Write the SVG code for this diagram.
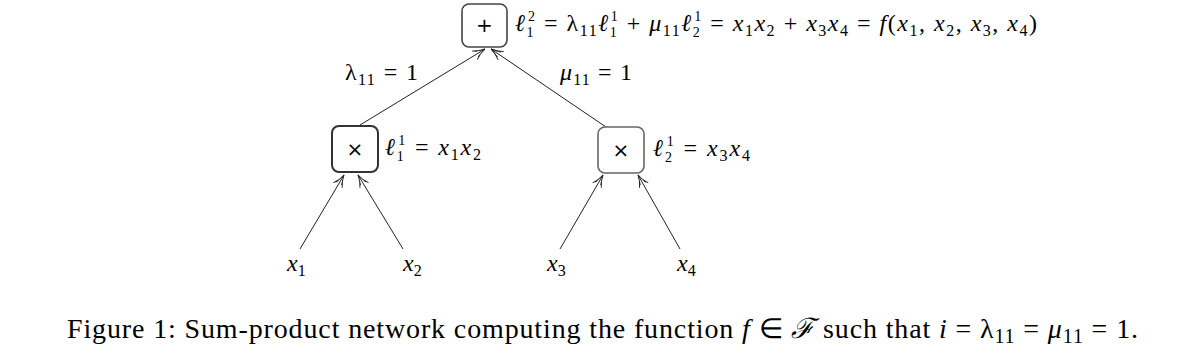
<svg xmlns="http://www.w3.org/2000/svg" width="1193" height="353" viewBox="0 0 1193 353">
<style>
.math{font-family:"Liberation Serif","DejaVu Serif",serif;font-size:24px;fill:#000}
.it{font-style:italic}
.sub{font-size:16px}
.ss{font-size:14px}
.box{fill:#fff;stroke:#444;stroke-width:1.6}
.op{font-family:"DejaVu Sans","Liberation Sans",sans-serif;font-size:20px;fill:#000;text-anchor:middle}
.edge{stroke:#222;stroke-width:1;fill:none;marker-end:url(#ah)}
.cap{font-family:"Liberation Serif","Times New Roman",serif;font-size:28px;fill:#000}
</style>
<defs>
<marker id="ah" markerWidth="14" markerHeight="12" refX="13" refY="6" orient="auto" markerUnits="userSpaceOnUse">
<path d="M1,1 Q7,5 13,6 Q7,7 1,11 M3,3 L13,6 M3,9 L13,6" fill="none" stroke="#222" stroke-width="0.9"/>
</marker>
</defs>
<g id="connectors">
<line class="edge" x1="360" y1="125" x2="485" y2="49"/>
<line class="edge" x1="606" y1="127" x2="491" y2="49"/>
<line class="edge" x1="300" y1="249" x2="344" y2="175"/>
<line class="edge" x1="403" y1="249" x2="358" y2="175"/>
<line class="edge" x1="560" y1="249" x2="603" y2="175"/>
<line class="edge" x1="680" y1="249" x2="638" y2="175"/>
</g>
<g id="edge-labels">
<text class="math" x="345" y="80" textLength="73"><tspan>λ</tspan><tspan class="sub" dy="5">11</tspan><tspan dy="-5"> = 1</tspan></text>
<text class="math" x="560" y="80" textLength="72"><tspan class="it">μ</tspan><tspan class="sub" dy="5">11</tspan><tspan dy="-5"> = 1</tspan></text>
</g>
<g id="node-sum">
<rect class="box" x="462" y="4" width="45" height="43" rx="7"/>
<text class="op" x="484.5" y="32">+</text>
<text class="math" x="515" y="31" textLength="522"><tspan class="it">ℓ</tspan><tspan class="ss" dy="6">1</tspan><tspan class="ss" dx="-7" dy="-16">2</tspan><tspan dy="10"> = λ</tspan><tspan class="sub" dy="5">11</tspan><tspan class="it" dy="-5">ℓ</tspan><tspan class="ss" dy="6">1</tspan><tspan class="ss" dx="-7" dy="-16">1</tspan><tspan dy="10"> + </tspan><tspan class="it">μ</tspan><tspan class="sub" dy="5">11</tspan><tspan class="it" dy="-5">ℓ</tspan><tspan class="ss" dy="6">2</tspan><tspan class="ss" dx="-7" dy="-16">1</tspan><tspan dy="10"> = </tspan><tspan class="it">x</tspan><tspan class="sub" dy="5">1</tspan><tspan class="it" dy="-5">x</tspan><tspan class="sub" dy="5">2</tspan><tspan dy="-5"> + </tspan><tspan class="it">x</tspan><tspan class="sub" dy="5">3</tspan><tspan class="it" dy="-5">x</tspan><tspan class="sub" dy="5">4</tspan><tspan dy="-5"> = </tspan><tspan class="it">f</tspan><tspan>(</tspan><tspan class="it">x</tspan><tspan class="sub" dy="5">1</tspan><tspan dy="-5">, </tspan><tspan class="it">x</tspan><tspan class="sub" dy="5">2</tspan><tspan dy="-5">, </tspan><tspan class="it">x</tspan><tspan class="sub" dy="5">3</tspan><tspan dy="-5">, </tspan><tspan class="it">x</tspan><tspan class="sub" dy="5">4</tspan><tspan dy="-5">)</tspan></text>
</g>
<g id="node-prod1">
<rect class="box" x="332" y="126" width="46" height="46" rx="7" style="stroke:#333;stroke-width:2"/>
<text class="op" x="355" y="156">×</text>
<text class="math" x="385" y="155" textLength="96"><tspan class="it">ℓ</tspan><tspan class="ss" dy="6">1</tspan><tspan class="ss" dx="-7" dy="-16">1</tspan><tspan dy="10"> = </tspan><tspan class="it">x</tspan><tspan class="sub" dy="5">1</tspan><tspan class="it" dy="-5">x</tspan><tspan class="sub" dy="5">2</tspan></text>
</g>
<g id="node-prod2">
<rect class="box" x="598" y="127" width="46" height="46" rx="7" style="stroke:#666"/>
<text class="op" x="621" y="157">×</text>
<text class="math" x="653" y="156" textLength="97"><tspan class="it">ℓ</tspan><tspan class="ss" dy="6">2</tspan><tspan class="ss" dx="-7" dy="-16">1</tspan><tspan dy="10"> = </tspan><tspan class="it">x</tspan><tspan class="sub" dy="5">3</tspan><tspan class="it" dy="-5">x</tspan><tspan class="sub" dy="5">4</tspan></text>
</g>
<g id="leaf-x1"><text class="math" x="287" y="271"><tspan class="it">x</tspan><tspan class="sub" dy="5">1</tspan></text></g>
<g id="leaf-x2"><text class="math" x="403" y="271"><tspan class="it">x</tspan><tspan class="sub" dy="5">2</tspan></text></g>
<g id="leaf-x3"><text class="math" x="547" y="271"><tspan class="it">x</tspan><tspan class="sub" dy="5">3</tspan></text></g>
<g id="leaf-x4"><text class="math" x="677" y="271"><tspan class="it">x</tspan><tspan class="sub" dy="5">4</tspan></text></g>
<text class="cap" x="67" y="338" textLength="1071">Figure 1: Sum-product network computing the function <tspan font-style="italic">f</tspan> ∈ <tspan font-style="italic">ℱ</tspan> such that <tspan font-style="italic">i</tspan> = λ<tspan font-size="20" dy="5">11</tspan><tspan dy="-5"> = </tspan><tspan font-style="italic">μ</tspan><tspan font-size="20" dy="5">11</tspan><tspan dy="-5"> = 1.</tspan></text>
</svg>
